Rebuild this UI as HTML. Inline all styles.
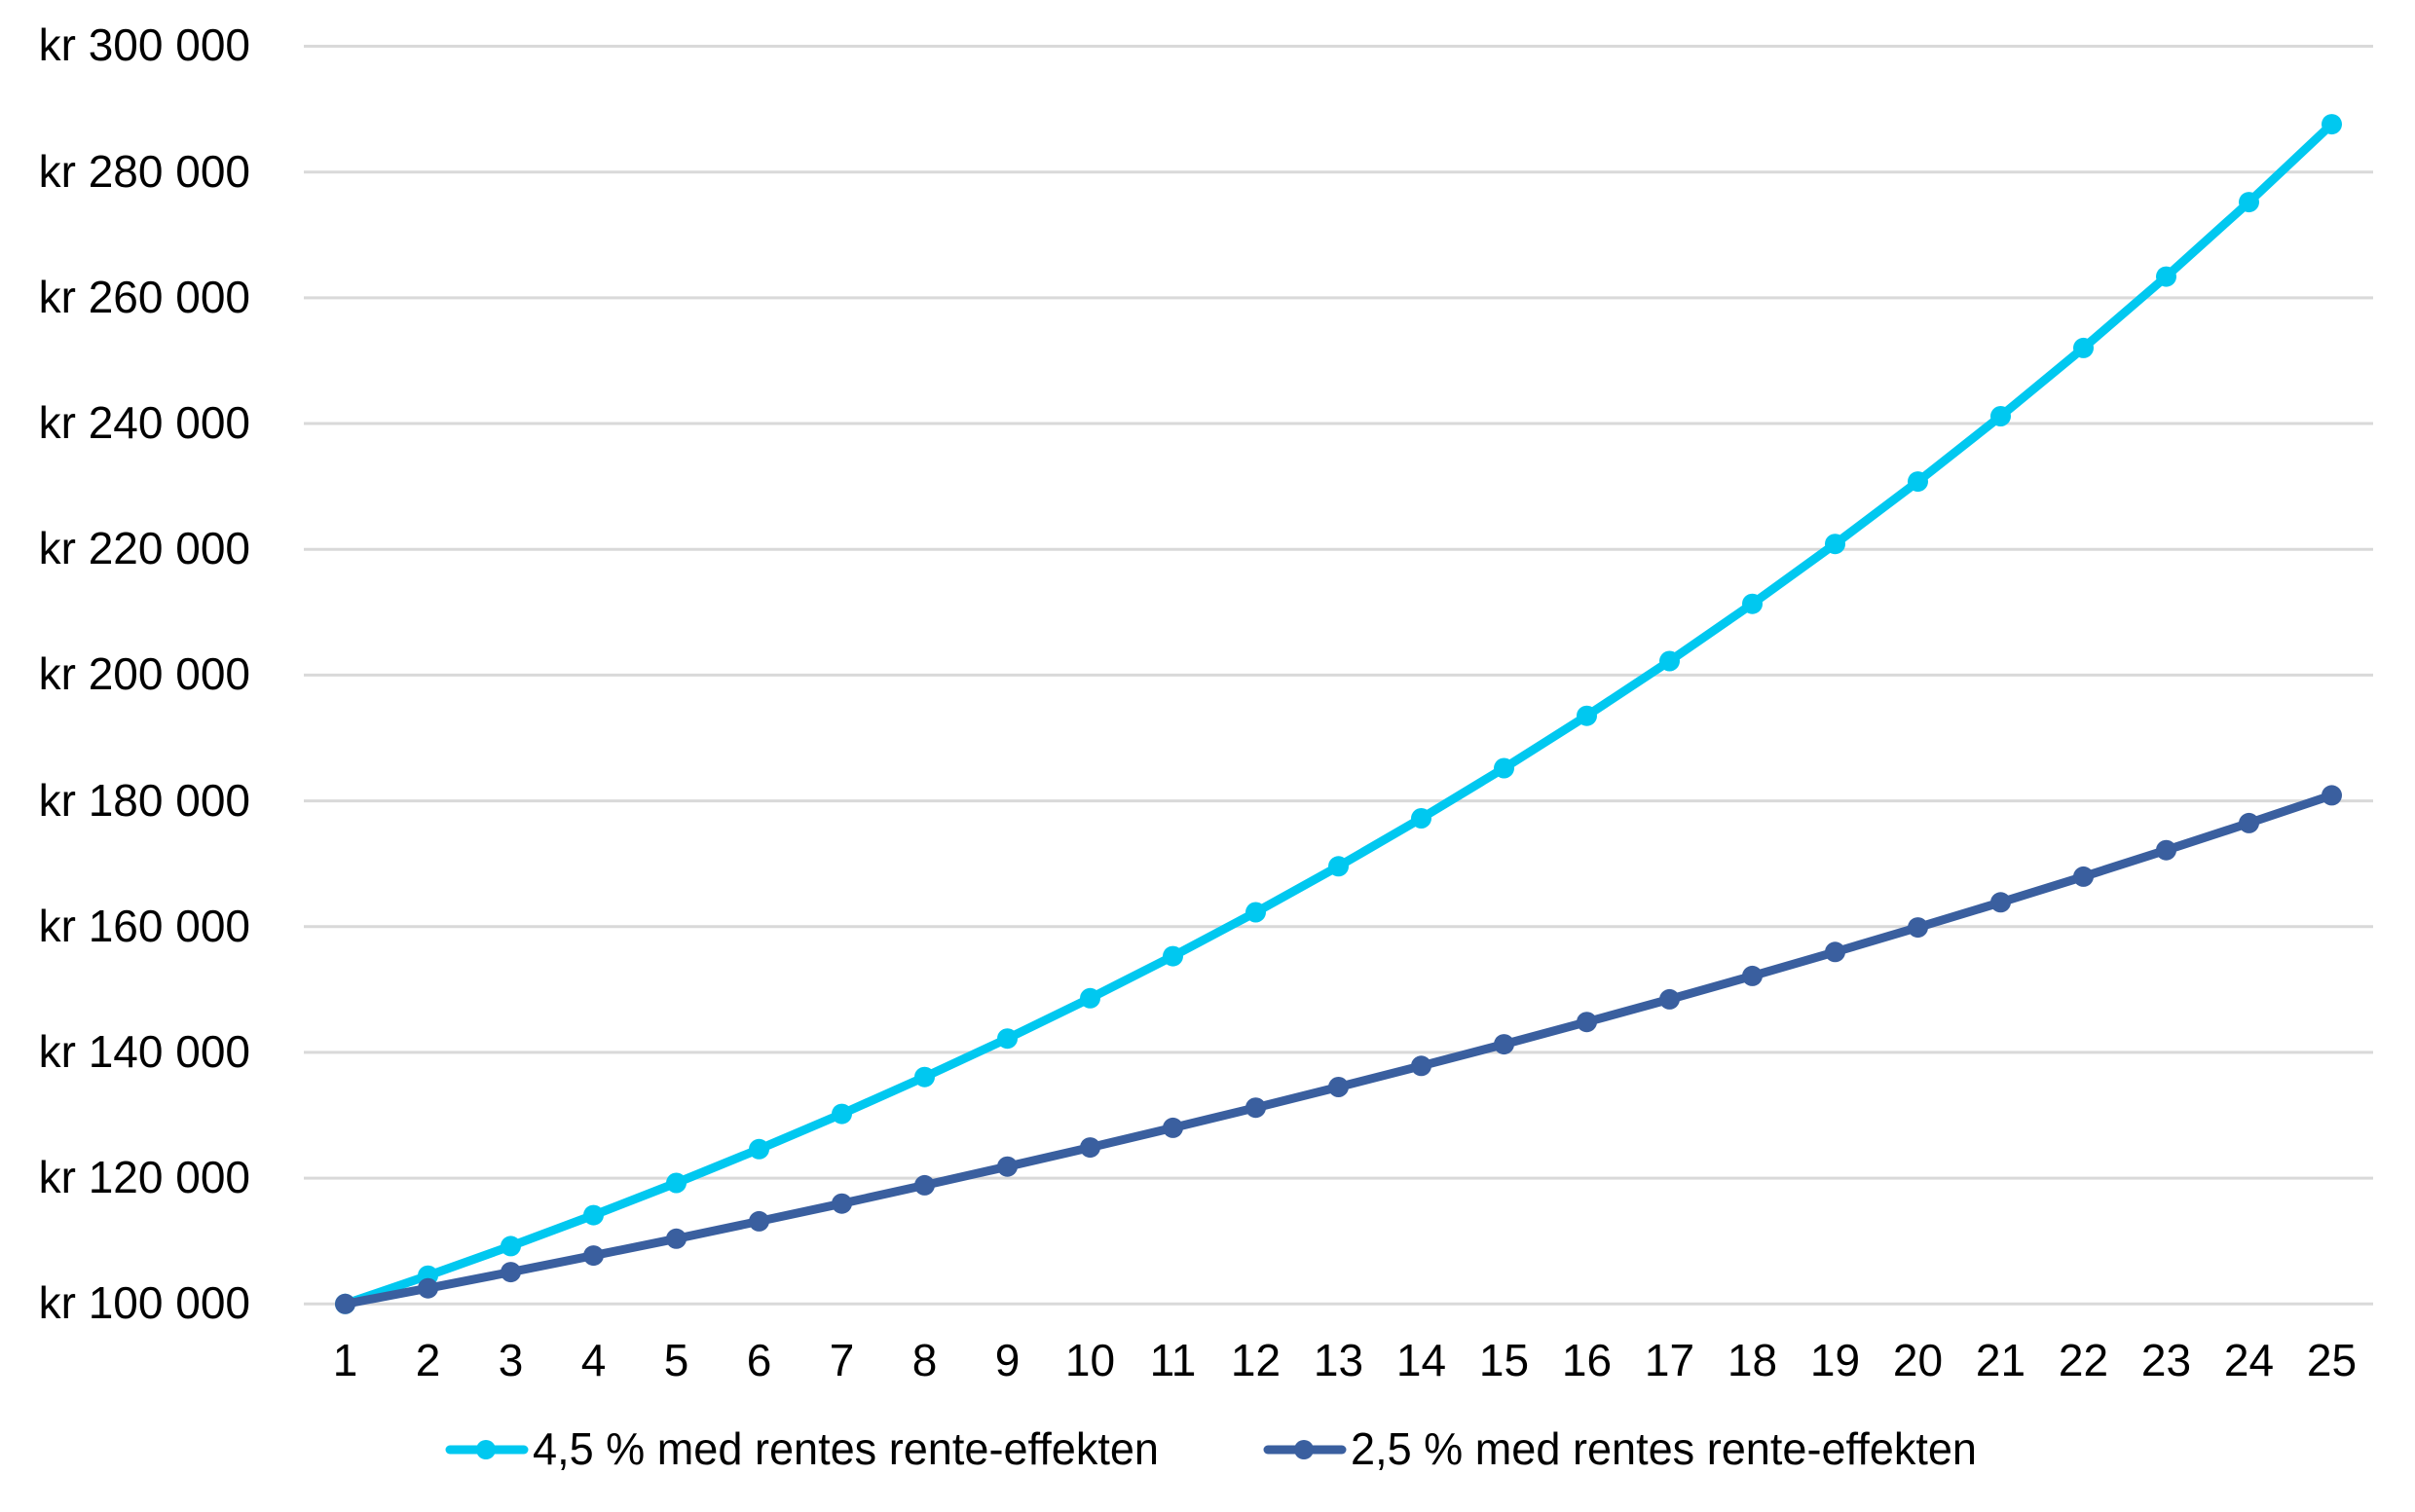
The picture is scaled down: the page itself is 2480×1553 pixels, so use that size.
<!DOCTYPE html>
<html><head><meta charset="utf-8"><style>
html,body{margin:0;padding:0;background:#fff;}
svg{display:block;}
text{font-family:"Liberation Sans",Arial,sans-serif;font-size:46px;fill:#000;}
</style></head><body>
<svg width="2480" height="1553" viewBox="0 0 2480 1553" xmlns="http://www.w3.org/2000/svg">
<g stroke="#d9d9d9" stroke-width="3">
<line x1="312" x2="2437" y1="1339.3" y2="1339.3"/>
<line x1="312" x2="2437" y1="1210.1" y2="1210.1"/>
<line x1="312" x2="2437" y1="1080.9" y2="1080.9"/>
<line x1="312" x2="2437" y1="951.8" y2="951.8"/>
<line x1="312" x2="2437" y1="822.6" y2="822.6"/>
<line x1="312" x2="2437" y1="693.4" y2="693.4"/>
<line x1="312" x2="2437" y1="564.2" y2="564.2"/>
<line x1="312" x2="2437" y1="435.0" y2="435.0"/>
<line x1="312" x2="2437" y1="305.9" y2="305.9"/>
<line x1="312" x2="2437" y1="176.7" y2="176.7"/>
<line x1="312" x2="2437" y1="47.5" y2="47.5"/>
</g>
<g text-anchor="end">
<text x="257" y="1354">kr 100 000</text>
<text x="257" y="1225">kr 120 000</text>
<text x="257" y="1096">kr 140 000</text>
<text x="257" y="967">kr 160 000</text>
<text x="257" y="838">kr 180 000</text>
<text x="257" y="708">kr 200 000</text>
<text x="257" y="579">kr 220 000</text>
<text x="257" y="450">kr 240 000</text>
<text x="257" y="321">kr 260 000</text>
<text x="257" y="192">kr 280 000</text>
<text x="257" y="62">kr 300 000</text>
</g>
<g text-anchor="middle">
<text x="354.5" y="1413">1</text><text x="439.5" y="1413">2</text><text x="524.5" y="1413">3</text><text x="609.5" y="1413">4</text><text x="694.5" y="1413">5</text><text x="779.5" y="1413">6</text><text x="864.5" y="1413">7</text><text x="949.5" y="1413">8</text><text x="1034.5" y="1413">9</text><text x="1119.5" y="1413">10</text><text x="1204.5" y="1413">11</text><text x="1289.5" y="1413">12</text><text x="1374.5" y="1413">13</text><text x="1459.5" y="1413">14</text><text x="1544.5" y="1413">15</text><text x="1629.5" y="1413">16</text><text x="1714.5" y="1413">17</text><text x="1799.5" y="1413">18</text><text x="1884.5" y="1413">19</text><text x="1969.5" y="1413">20</text><text x="2054.5" y="1413">21</text><text x="2139.5" y="1413">22</text><text x="2224.5" y="1413">23</text><text x="2309.5" y="1413">24</text><text x="2394.5" y="1413">25</text>
</g>
<!-- 4.5% series -->
<g fill="#00c8f0">
<polyline fill="none" stroke="#00c8f0" stroke-width="9" stroke-linejoin="round" points="354.5,1339.3 439.5,1310.2 524.5,1279.9 609.5,1248.1 694.5,1215.0 779.5,1180.3 864.5,1144.1 949.5,1106.2 1034.5,1066.7 1119.5,1025.3 1204.5,982.1 1289.5,937.0 1374.5,889.8 1459.5,840.5 1544.5,789.0 1629.5,735.2 1714.5,679.0 1799.5,620.2 1884.5,558.7 1969.5,494.6 2054.5,427.5 2139.5,357.4 2224.5,284.1 2309.5,207.6 2394.5,127.6"/>
<circle cx="354.5" cy="1339.3" r="10.5"/><circle cx="439.5" cy="1310.2" r="10.5"/><circle cx="524.5" cy="1279.9" r="10.5"/><circle cx="609.5" cy="1248.1" r="10.5"/><circle cx="694.5" cy="1215.0" r="10.5"/><circle cx="779.5" cy="1180.3" r="10.5"/><circle cx="864.5" cy="1144.1" r="10.5"/><circle cx="949.5" cy="1106.2" r="10.5"/><circle cx="1034.5" cy="1066.7" r="10.5"/><circle cx="1119.5" cy="1025.3" r="10.5"/><circle cx="1204.5" cy="982.1" r="10.5"/><circle cx="1289.5" cy="937.0" r="10.5"/><circle cx="1374.5" cy="889.8" r="10.5"/><circle cx="1459.5" cy="840.5" r="10.5"/><circle cx="1544.5" cy="789.0" r="10.5"/><circle cx="1629.5" cy="735.2" r="10.5"/><circle cx="1714.5" cy="679.0" r="10.5"/><circle cx="1799.5" cy="620.2" r="10.5"/><circle cx="1884.5" cy="558.7" r="10.5"/><circle cx="1969.5" cy="494.6" r="10.5"/><circle cx="2054.5" cy="427.5" r="10.5"/><circle cx="2139.5" cy="357.4" r="10.5"/><circle cx="2224.5" cy="284.1" r="10.5"/><circle cx="2309.5" cy="207.6" r="10.5"/><circle cx="2394.5" cy="127.6" r="10.5"/>
</g>
<!-- 2.5% series -->
<g fill="#3a5f9f">
<polyline fill="none" stroke="#3a5f9f" stroke-width="9" stroke-linejoin="round" points="354.5,1339.3 439.5,1323.2 524.5,1306.6 609.5,1289.6 694.5,1272.3 779.5,1254.4 864.5,1236.2 949.5,1217.4 1034.5,1198.2 1119.5,1178.6 1204.5,1158.4 1289.5,1137.7 1374.5,1116.5 1459.5,1094.8 1544.5,1072.6 1629.5,1049.7 1714.5,1026.4 1799.5,1002.4 1884.5,977.8 1969.5,952.6 2054.5,926.8 2139.5,900.4 2224.5,873.2 2309.5,845.4 2394.5,816.9"/>
<circle cx="354.5" cy="1339.3" r="10.5"/><circle cx="439.5" cy="1323.2" r="10.5"/><circle cx="524.5" cy="1306.6" r="10.5"/><circle cx="609.5" cy="1289.6" r="10.5"/><circle cx="694.5" cy="1272.3" r="10.5"/><circle cx="779.5" cy="1254.4" r="10.5"/><circle cx="864.5" cy="1236.2" r="10.5"/><circle cx="949.5" cy="1217.4" r="10.5"/><circle cx="1034.5" cy="1198.2" r="10.5"/><circle cx="1119.5" cy="1178.6" r="10.5"/><circle cx="1204.5" cy="1158.4" r="10.5"/><circle cx="1289.5" cy="1137.7" r="10.5"/><circle cx="1374.5" cy="1116.5" r="10.5"/><circle cx="1459.5" cy="1094.8" r="10.5"/><circle cx="1544.5" cy="1072.6" r="10.5"/><circle cx="1629.5" cy="1049.7" r="10.5"/><circle cx="1714.5" cy="1026.4" r="10.5"/><circle cx="1799.5" cy="1002.4" r="10.5"/><circle cx="1884.5" cy="977.8" r="10.5"/><circle cx="1969.5" cy="952.6" r="10.5"/><circle cx="2054.5" cy="926.8" r="10.5"/><circle cx="2139.5" cy="900.4" r="10.5"/><circle cx="2224.5" cy="873.2" r="10.5"/><circle cx="2309.5" cy="845.4" r="10.5"/><circle cx="2394.5" cy="816.9" r="10.5"/>
</g>
<!-- legend -->
<line x1="462" x2="538" y1="1489" y2="1489" stroke="#00c8f0" stroke-width="9" stroke-linecap="round"/>
<circle cx="499" cy="1489" r="10" fill="#00c8f0"/>
<text x="547" y="1504" textLength="643" lengthAdjust="spacingAndGlyphs">4,5 % med rentes rente-effekten</text>
<line x1="1302" x2="1378" y1="1489" y2="1489" stroke="#3a5f9f" stroke-width="9" stroke-linecap="round"/>
<circle cx="1339" cy="1489" r="10" fill="#3a5f9f"/>
<text x="1387" y="1504" textLength="643" lengthAdjust="spacingAndGlyphs">2,5 % med rentes rente-effekten</text>
</svg>
</body></html>
